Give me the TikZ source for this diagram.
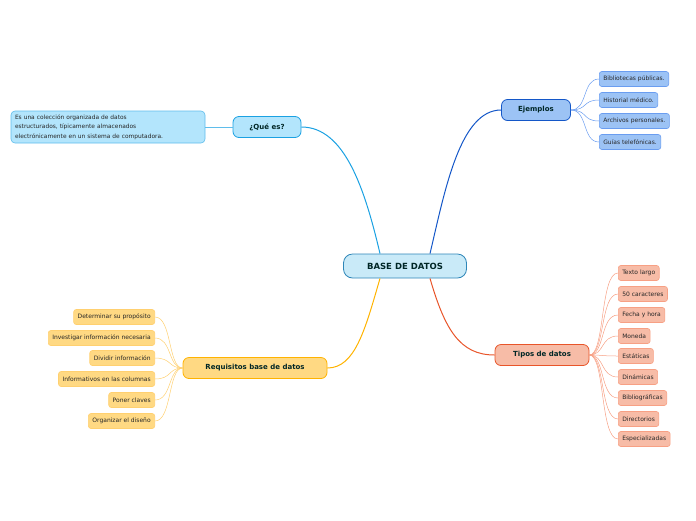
\documentclass[tikz,border=0pt]{standalone}
\usepackage{fontspec}
\setmainfont{DejaVu Sans}
\begin{document}
\begin{tikzpicture}[x=1pt,y=-1pt,
 mainbox/.style={rounded corners=6pt,line width=0.8pt,font=\bfseries\fontsize{7}{8}\selectfont,text=black!70!teal,inner sep=0pt,minimum height=21pt},
 leafbox/.style={rounded corners=2.5pt,line width=0.6pt,font=\fontsize{6}{7}\selectfont,text=black!85,inner xsep=4pt,minimum height=15pt,inner ysep=0pt},
 conn/.style={line width=1pt},
 thin/.style={line width=0.5pt}]
\useasboundingbox (0,0) rectangle (696,520);
\definecolor{cq}{HTML}{1BA1E2}\definecolor{cqf}{HTML}{B3E5FC}
\definecolor{ce}{HTML}{1457C8}\definecolor{cef}{HTML}{9CC3F5}\definecolor{cel}{HTML}{6A9DF0}
\definecolor{ct}{HTML}{E8552A}\definecolor{ctf}{HTML}{F7BCA7}\definecolor{ctl}{HTML}{F7A084}
\definecolor{cr}{HTML}{FFB300}\definecolor{crf}{HTML}{FFD983}\definecolor{crl}{HTML}{FFD070}
\definecolor{cc}{HTML}{2E86B8}\definecolor{ccf}{HTML}{C9EAF8}

\node[mainbox,draw=cc,fill=ccf,minimum width=123pt,minimum height=24pt,font=\bfseries\fontsize{8.5}{10}\selectfont,rounded corners=9pt] (c) at (405,266) {BASE DE DATOS};
\node[mainbox,draw=cq,fill=cqf,minimum width=68pt] (q) at (267,127) {¿Qué es?};
\node[draw=cq!70,fill=cqf,rounded corners=4pt,line width=0.6pt,minimum width=194pt,minimum height=32pt,align=left,text width=186pt,font=\fontsize{5.9}{9.3}\selectfont,text=black!85] (qd) at (108,127) {Es una colección organizada de datos\\estructurados, típicamente almacenados\\electrónicamente en un sistema de computadora.};
\node[mainbox,draw=ce,fill=cef,minimum width=69pt] (e) at (536,110) {Ejemplos};
\node[mainbox,draw=ct,fill=ctf,minimum width=94pt] (t) at (542,355) {Tipos de datos};
\node[mainbox,draw=cr,fill=crf,minimum width=144pt] (r) at (255,368) {Requisitos base de datos};

\draw[conn,cq] (c.north) ++(-25,0) coordinate (c1) .. controls (365,190) and (345,127) .. (q.east);
\draw[conn,ce] (c.north) ++(25,0) coordinate (c2) .. controls (445,190) and (460,110) .. (e.west);
\draw[conn,ct] (c.south) ++(25,0) coordinate (c3) .. controls (445,330) and (460,355) .. (t.west);
\draw[conn,cr] (c.south) ++(-25,0) coordinate (c4) .. controls (365,330) and (355,368) .. (r.east);
\draw[thin,cq!70] (q.west) -- (qd.east);

\foreach \t/\y [count=\i] in {Bibliotecas públicas./79,Historial médico./100,Archivos personales./121,Guías telefónicas./142}{
 \node[leafbox,draw=cel,fill=cef,anchor=west] (e\i) at (599,\y) {\t};
 \draw[thin,cel] (e.east) .. controls (588,110) and (582,\y) .. (e\i.west);
}
\foreach \t/\y [count=\i] in {Texto largo/273,50 caracteres/294,Fecha y hora/315,Moneda/336,Estáticas/356,Dinámicas/377,Bibliográficas/398,Directorios/419,Especializadas/439}{
 \node[leafbox,draw=ctl,fill=ctf,anchor=west] (t\i) at (618,\y) {\t};
 \draw[thin,ctl] (t.east) .. controls (605,355) and (600,\y) .. (t\i.west);
}
\foreach \t/\y [count=\i] in {Determinar su propósito/317,Investigar información necesaria/338,Dividir información/358,Informativos en las columnas/379,Poner claves/400,Organizar el diseño/421}{
 \node[leafbox,draw=crl,fill=crf,anchor=east] (r\i) at (155,\y) {\t};
 \draw[thin,crl] (r.west) .. controls (168,368) and (172,\y) .. (r\i.east);
}
\end{tikzpicture}
\end{document}
